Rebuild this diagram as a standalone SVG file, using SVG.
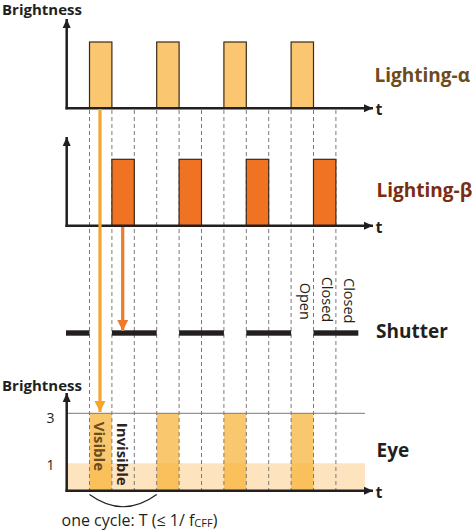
<svg xmlns="http://www.w3.org/2000/svg" width="474" height="531" viewBox="0 0 474 531">
<style>
text{font-family:"Open Sans","Liberation Sans",sans-serif;}
.axis{stroke:#231f20;stroke-width:2.5;fill:none;}
.dash{stroke:#7a7a7a;stroke-width:1;stroke-dasharray:4 3;fill:none;}
.pa{fill:#fbc670;stroke:#3b2a1a;stroke-width:1.2;}
.pb{fill:#f07324;stroke:#3b2a1a;stroke-width:1.2;}
.lbl{font-weight:bold;font-size:19px;}
.ax{font-weight:bold;font-size:15px;fill:#231f20;}
.t{font-weight:bold;font-size:16px;fill:#231f20;}
.rot{font-size:14.5px;fill:#231f20;}
.bar{fill:#231f20;}
.eyebar{fill:#f7b030;opacity:0.7;}
</style>
<defs>
<marker id="ah" markerWidth="10" markerHeight="10" refX="9" refY="5" orient="auto" markerUnits="userSpaceOnUse">
<path d="M0,1 L9,5 L0,9 Z" fill="#231f20"/>
</marker>
<marker id="ahA" markerWidth="12" markerHeight="12" refX="11" refY="6" orient="auto" markerUnits="userSpaceOnUse">
<path d="M0,0.5 L11,6 L0,11.5 Z" fill="#f5a52a"/>
</marker>
<marker id="ahB" markerWidth="12" markerHeight="12" refX="11" refY="6" orient="auto" markerUnits="userSpaceOnUse">
<path d="M0,0.5 L11,6 L0,11.5 Z" fill="#ee7a2c"/>
</marker>
</defs>
<rect width="474" height="531" fill="#ffffff"/>

<g id="eye-background">
<rect x="66.7" y="463.3" width="298.3" height="27.4" fill="#fde3be"/>
<rect class="eyebar" x="89.5" y="413.3" width="22.4" height="77.4"/>
<rect class="eyebar" x="156.7" y="413.3" width="22.4" height="77.4"/>
<rect class="eyebar" x="223.9" y="413.3" width="22.4" height="77.4"/>
<rect class="eyebar" x="291.1" y="413.3" width="22.4" height="77.4"/>
<line x1="66.7" y1="413.3" x2="365" y2="413.3" stroke="#7a7a7a" stroke-width="1"/>
</g>

<g id="grid">
<path class="dash" d="M89.5,110V490M111.9,110V490M134.3,110V490M156.7,110V490M179.1,110V490M201.5,110V490M223.9,110V490M246.3,110V490M268.7,110V490M291.1,110V490M313.5,110V490M335.9,110V490"/>
</g>

<g id="lighting-alpha">
<text class="ax" x="2" y="15">Brightness</text>
<line class="axis" x1="66.7" y1="109.3" x2="66.7" y2="19" marker-end="url(#ah)"/>
<rect class="pa" x="89.5" y="42" width="22.4" height="66.3"/>
<rect class="pa" x="156.7" y="42" width="22.4" height="66.3"/>
<rect class="pa" x="223.9" y="42" width="22.4" height="66.3"/>
<rect class="pa" x="291.1" y="42" width="22.4" height="66.3"/>
<line class="axis" x1="65.5" y1="108.3" x2="373" y2="108.3" marker-end="url(#ah)"/>
<text class="t" x="375.5" y="115">t</text>
<text class="lbl" x="374.5" y="81.5" fill="#6e4b1c">Lighting-α</text>
</g>

<g id="lighting-beta">
<line class="axis" x1="66.7" y1="226.9" x2="66.7" y2="137" marker-end="url(#ah)"/>
<rect class="pb" x="111.9" y="159.3" width="22.4" height="66.4"/>
<rect class="pb" x="179.1" y="159.3" width="22.4" height="66.4"/>
<rect class="pb" x="246.3" y="159.3" width="22.4" height="66.4"/>
<rect class="pb" x="313.5" y="159.3" width="22.4" height="66.4"/>
<line class="axis" x1="65.5" y1="225.7" x2="373" y2="225.7" marker-end="url(#ah)"/>
<text class="t" x="375.5" y="232.5">t</text>
<text class="lbl" x="376.5" y="196.7" fill="#7a2d10">Lighting-β</text>
</g>

<g id="shutter">
<rect class="bar" x="66" y="330.3" width="23.5" height="5.4"/>
<rect class="bar" x="111.9" y="330.3" width="44.8" height="5.4"/>
<rect class="bar" x="179.1" y="330.3" width="44.8" height="5.4"/>
<rect class="bar" x="246.3" y="330.3" width="44.8" height="5.4"/>
<rect class="bar" x="313.5" y="330.3" width="44.8" height="5.4"/>
<text class="rot" transform="translate(299.5,282.7) rotate(90)">Open</text>
<text class="rot" transform="translate(322,276.7) rotate(90)">Closed</text>
<text class="rot" transform="translate(344,278) rotate(90)">Closed</text>
<text class="lbl" x="376" y="338.3" fill="#231f20">Shutter</text>
</g>

<g id="eye">
<text class="ax" x="2" y="391">Brightness</text>
<line class="axis" x1="66.7" y1="491.9" x2="66.7" y2="393" marker-end="url(#ah)"/>
<line class="axis" x1="65.5" y1="490.7" x2="373" y2="490.7" marker-end="url(#ah)"/>
<text class="t" x="375.5" y="497.5">t</text>
<text x="46.5" y="423.3" font-size="14" fill="#231f20">3</text>
<text x="46.5" y="470" font-size="14" fill="#231f20">1</text>
<text transform="translate(93.5,421.7) rotate(90)" font-size="15" font-weight="bold" fill="#6b4a1e">Visible</text>
<text transform="translate(117,422.7) rotate(90)" font-size="15" font-weight="bold" fill="#2f2520">Invisible</text>
<text class="lbl" x="376.5" y="456.7" fill="#231f20">Eye</text>
<path d="M89.5,494.5 Q123.1,519 156.7,494.5" fill="none" stroke="#231f20" stroke-width="1.2"/>
<text x="61.5" y="525.5" font-size="16" fill="#231f20">one cycle: T (≤ 1/ f<tspan font-size="11" dy="1.5">CFF</tspan><tspan dy="-1.5">)</tspan></text>
</g>

<g id="connectors">
<line x1="100" y1="109" x2="100" y2="412" stroke="#f5a52a" stroke-width="3.2" marker-end="url(#ahA)"/>
<line x1="122.7" y1="227" x2="122.7" y2="331" stroke="#ee7a2c" stroke-width="3.2" marker-end="url(#ahB)"/>
</g>
</svg>
